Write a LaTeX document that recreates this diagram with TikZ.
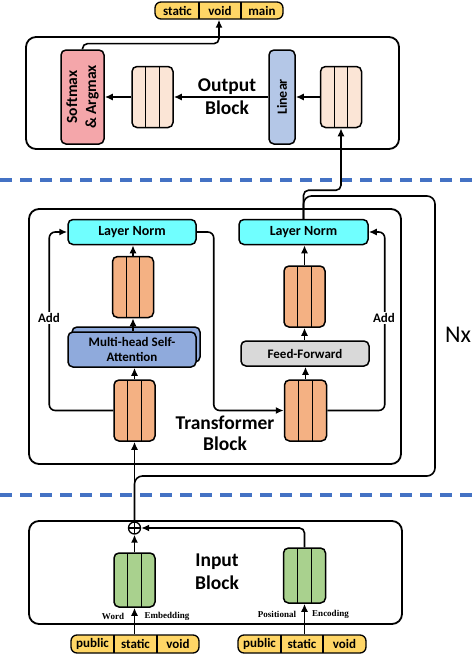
\documentclass[tikz,border=0pt]{standalone}
\usepackage{fontspec}
\setmainfont{Carlito}
\newfontfamily\serifb{Liberation Serif}
\usetikzlibrary{arrows.meta,calc}
\definecolor{tokY}{HTML}{FFD666}
\definecolor{pinkS}{HTML}{F4A6AA}
\definecolor{beigeV}{HTML}{FBE5D6}
\definecolor{orangeV}{HTML}{F4B183}
\definecolor{cyanN}{HTML}{70FFFF}
\definecolor{blueM}{HTML}{8FAADC}
\definecolor{blueL}{HTML}{B4C7E7}
\definecolor{grayF}{HTML}{D9D9D9}
\definecolor{greenV}{HTML}{A9D18E}
\definecolor{dashB}{HTML}{4472C4}
\tikzset{
  frame/.style={draw, line width=1.8pt, rounded corners=10pt, inner sep=0pt},
  box/.style={draw, line width=1.5pt, rounded corners=5pt, inner sep=0pt},
  vdiv/.style={path picture={
    \draw[line width=1.2pt] ($(path picture bounding box.south west)!0.335!(path picture bounding box.south east)$) -- ($(path picture bounding box.north west)!0.335!(path picture bounding box.north east)$);
    \draw[line width=1.2pt] ($(path picture bounding box.south west)!0.665!(path picture bounding box.south east)$) -- ($(path picture bounding box.north west)!0.665!(path picture bounding box.north east)$);}},
  vecbox/.style={box, vdiv, minimum width=41pt, minimum height=61pt},
  arr/.style={line width=1.6pt, -{Latex[length=8pt,width=7pt]}},
  ln/.style={line width=1.6pt},
  tok/.style={draw, line width=1.3pt, fill=tokY, rounded corners=6pt, minimum height=17pt, minimum width=128pt, inner sep=0pt},
  toktxt/.style={font=\bfseries\fontsize{13}{15}\selectfont, inner sep=0pt},
  lbl/.style={font=\bfseries\fontsize{13}{15}\selectfont, align=center},
  title/.style={font=\bfseries\fontsize{19.5}{23}\selectfont, align=center},
  small/.style={font=\serifb\bfseries\fontsize{9}{10}\selectfont, inner sep=0pt},
  dashsep/.style={draw=dashB, line width=3.5pt, dash pattern=on 12pt off 8pt},
}
\begin{document}
\begin{tikzpicture}[x=1pt,y=-1pt]
\useasboundingbox (0,0) rectangle (474,654);

% ---------- Output block ----------
\node[tok] (outTok) at (219,10.5) {};
\draw[line width=1.3pt] (199,2) -- (199,19) (241,2) -- (241,19);
\node[toktxt] (o1) at (177.5,10.5) {static};
\node[toktxt] (o2) at (220,10.5) {void};
\node[toktxt] (o3) at (262,10.5) {main};

\node[frame, minimum width=373pt, minimum height=112pt] (outF) at (212.5,93) {};
\node[box, fill=pinkS, minimum width=94pt, minimum height=43pt, rotate=90,
      font=\bfseries\fontsize{15.5}{19}\selectfont, align=center] (sm) at (82.5,97) {Softmax\\\& Argmax};
\node[vecbox, fill=beigeV] (vo1) at (152.5,97) {};
\node[box, fill=blueL, minimum width=94pt, minimum height=26pt, rotate=90,
      font=\bfseries\fontsize{14}{16}\selectfont] (lin) at (282,97) {Linear};
\node[vecbox, fill=beigeV] (vo2) at (341,97) {};
\node[title] (outT) at (227,96.5) {Output\\Block};

\draw[arr] (vo2) -- (lin);
\draw[arr] (lin) -- (vo1);
\draw[arr] (vo1) -- (sm);
\draw[arr, rounded corners=5pt] (sm.east) |- ($(outTok.south)+(0,24)$) -- (outTok.south);

% ---------- separator ----------
\coordinate (d1a) at (0,180);
\coordinate (d1b) at (474,180);
\draw[dashsep] (d1a) -- (d1b);

% ---------- Transformer block ----------
\node[frame, minimum width=372pt, minimum height=255pt] (trF) at (215,336.5) {};
\node[box, fill=cyanN, minimum width=128pt, minimum height=25pt, font=\bfseries\fontsize{14}{16}\selectfont] (ln1) at (132,232) {Layer Norm};
\node[vecbox, fill=orangeV] (v1t) at (133,287) {};
\node[box, fill=blueM, minimum width=128pt, minimum height=35pt] (mhb) at (136,344.5) {};
\node[box, fill=blueM, minimum width=128pt, minimum height=35pt, lbl] (mh) at (132,349.5) {Multi-head Self-\\Attention};
\node[vecbox, fill=orangeV] (v1b) at (134.5,410.5) {};

\node[box, fill=cyanN, minimum width=129pt, minimum height=25pt, font=\bfseries\fontsize{14}{16}\selectfont] (ln2) at (303.5,232) {Layer Norm};
\node[vecbox, fill=orangeV] (v2t) at (304.5,296.5) {};
\node[box, fill=grayF, minimum width=128pt, minimum height=25pt, lbl] (ff) at (305,353.5) {Feed-Forward};
\node[vecbox, fill=orangeV, minimum width=42pt] (v2b) at (305.5,410.5) {};

\node[font=\bfseries\fontsize{19.5}{21}\selectfont, align=center] (trT) at (225,433) {Transformer\\Block};

\draw[arr] (v1b.north) -- (v1b.north |- mh.south);
\draw[arr] (v1t.south |- mh.north) -- (v1t.south);
\draw[arr] (v1t.north) -- (v1t.north |- ln1.south);
\draw[arr] (v2b.north) -- (v2b.north |- ff.south);
\draw[arr] (v2t.south |- ff.north) -- (v2t.south);
\draw[arr] (v2t.north) -- (v2t.north |- ln2.south);

\draw[arr, rounded corners=6pt] (v1b.west) -| ($(ln1.west)+(-18,0)$) -- (ln1.west);
\node[fill=white, inner sep=1pt, lbl] (addL) at (49,318) {Add};
\draw[arr, rounded corners=6pt] (v2b.east) -| ($(ln2.east)+(16,0)$) -- (ln2.east);
\node[fill=white, inner sep=1pt, lbl] (addR) at (384,318) {Add};
\draw[arr, rounded corners=6pt] (ln1.east) -- ++(17,0) |- (v2b.west);

\draw[arr, rounded corners=5pt] (ln2.north) |- ($(vo2.south)+(0,62)$) -- (vo2.south);

% Nx loop
\coordinate (nxA) at (435,196);
\coordinate (nxB) at (435,476);
\node[font=\fontsize{24}{26}\selectfont] (nx) at (458,335) {Nx};

% ---------- separator ----------
\coordinate (d2a) at (0,495);
\coordinate (d2b) at (474,495);
\draw[dashsep] (d2a) -- (d2b);

% ---------- Input block ----------
\node[frame, minimum width=373pt, minimum height=103pt] (inF) at (215.5,572.5) {};
\node[draw, circle, line width=1.3pt, minimum size=12pt, inner sep=0pt, fill=white,
      path picture={\draw[line width=1.2pt] (path picture bounding box.north) -- (path picture bounding box.south) (path picture bounding box.west) -- (path picture bounding box.east);}] (cp) at (134.5,528) {};
\node[vecbox, fill=greenV, minimum height=54pt] (vw) at (134.5,580) {};
\node[vecbox, fill=greenV, minimum width=42pt, minimum height=55pt] (vp) at (304.5,575.5) {};
\node[title] (inT) at (217,571.5) {Input\\Block};
\node[small] (lw) at (113,616) {Word};
\node[small] (le) at (167,616.5) {Embedding};
\node[small] (lp) at (277,614) {Positional};
\node[small] (lc) at (330.5,614) {Encoding};

\node[tok, minimum height=18pt] (tokL) at (135,644) {};
\draw[line width=1.3pt] (114,635) -- (114,653) (157,635) -- (157,653);
\node[toktxt] (b1) at (92.5,644) {public};
\node[toktxt] (b2) at (135.5,644) {static};
\node[toktxt] (b3) at (178,644) {void};
\node[tok, minimum height=18pt] (tokR) at (302,644) {};
\draw[line width=1.3pt] (281,635) -- (281,653) (323,635) -- (323,653);
\node[toktxt] (b4) at (259.5,644) {public};
\node[toktxt] (b5) at (302,644) {static};
\node[toktxt] (b6) at (344.5,644) {void};

\draw[arr] (vw.south |- tokL.north) -- (vw.south);
\draw[arr] (vw.north) -- (cp.south);
\draw[arr] (vp.south |- tokR.north) -- (vp.south);
\draw[arr, rounded corners=5pt] (vp.north) |- (cp.east);
\draw[arr] (cp.north) -- (v1b.south);
\draw[ln, rounded corners=8pt] (ln2.north) |- (nxA) -- (nxB) -| (cp.north);
\end{tikzpicture}
\end{document}
